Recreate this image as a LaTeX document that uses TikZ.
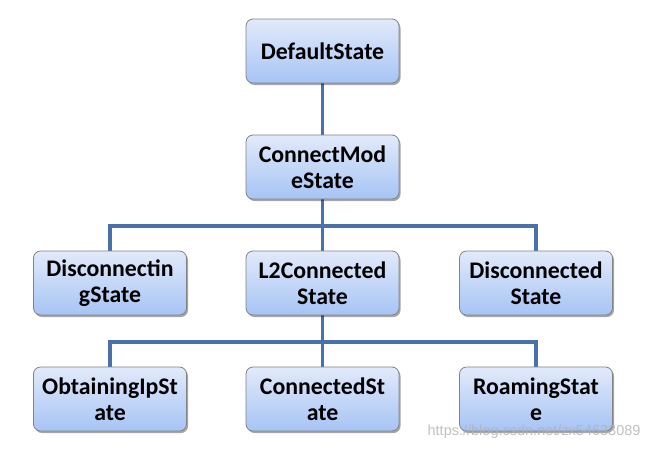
\documentclass[tikz,border=0pt]{standalone}
\usepackage{fontspec}
\setmainfont{Carlito}
\newfontfamily\wmfont{Liberation Sans}
\usetikzlibrary{shadows}
\pgfdeclarelayer{bg}
\pgfsetlayers{bg,main}
\definecolor{boxtop}{RGB}{226,234,251}
\definecolor{boxbot}{RGB}{166,196,244}
\definecolor{boxline}{RGB}{130,130,130}
\definecolor{conn}{RGB}{74,114,170}
\tikzset{
  statebox/.style={draw=boxline, line width=0.8pt, rounded corners=7pt,
    top color=boxtop, bottom color=boxbot, minimum width=153pt, minimum height=64pt,
    inner sep=0pt, align=center, font=\fontsize{23.8}{26}\selectfont\bfseries,
    drop shadow={shadow xshift=1.5pt, shadow yshift=-2pt, fill=black, opacity=0.35}},
  link/.style={draw=conn, line width=3.5pt}
}
\begin{document}
\begin{tikzpicture}[x=1pt,y=-1pt]
\useasboundingbox (0,0) rectangle (652,450);
\node[statebox] (def) at (322.5,51) {DefaultState};
\node[statebox] (cms) at (322.5,167) {ConnectMod\\eState};
\node[statebox] (dcg) at (110,283) {Disconnectin\\gState};
\node[statebox] (l2c) at (322.5,283) {L2Connected\\State};
\node[statebox] (dcd) at (536,283) {Disconnected\\State};
\node[statebox] (obt) at (110,399) {ObtainingIpSt\\ate};
\node[statebox] (con) at (322.5,399) {ConnectedSt\\ate};
\node[statebox] (roa) at (536,399) {RoamingStat\\e};
\coordinate (h1m) at (322.5,226);
\coordinate (h2m) at (322.5,342);
\begin{pgfonlayer}{bg}
\fill[white] (0,0) rectangle (652,450);
\draw[link] (def) -- (cms);
\draw[link] (cms) -- (h1m);
\draw[link] (dcg) |- (h1m) -| (dcd);
\draw[link] (h1m) -- (l2c);
\draw[link] (l2c) -- (h2m);
\draw[link] (obt) |- (h2m) -| (roa);
\draw[link] (h2m) -- (con);
\end{pgfonlayer}
\node[text=black!30, opacity=0.8, font=\wmfont\fontsize{14.5}{16}\selectfont, anchor=east] (wm) at (644,432) {https://blog.csdn.net/zx54633089};
\end{tikzpicture}
\end{document}
